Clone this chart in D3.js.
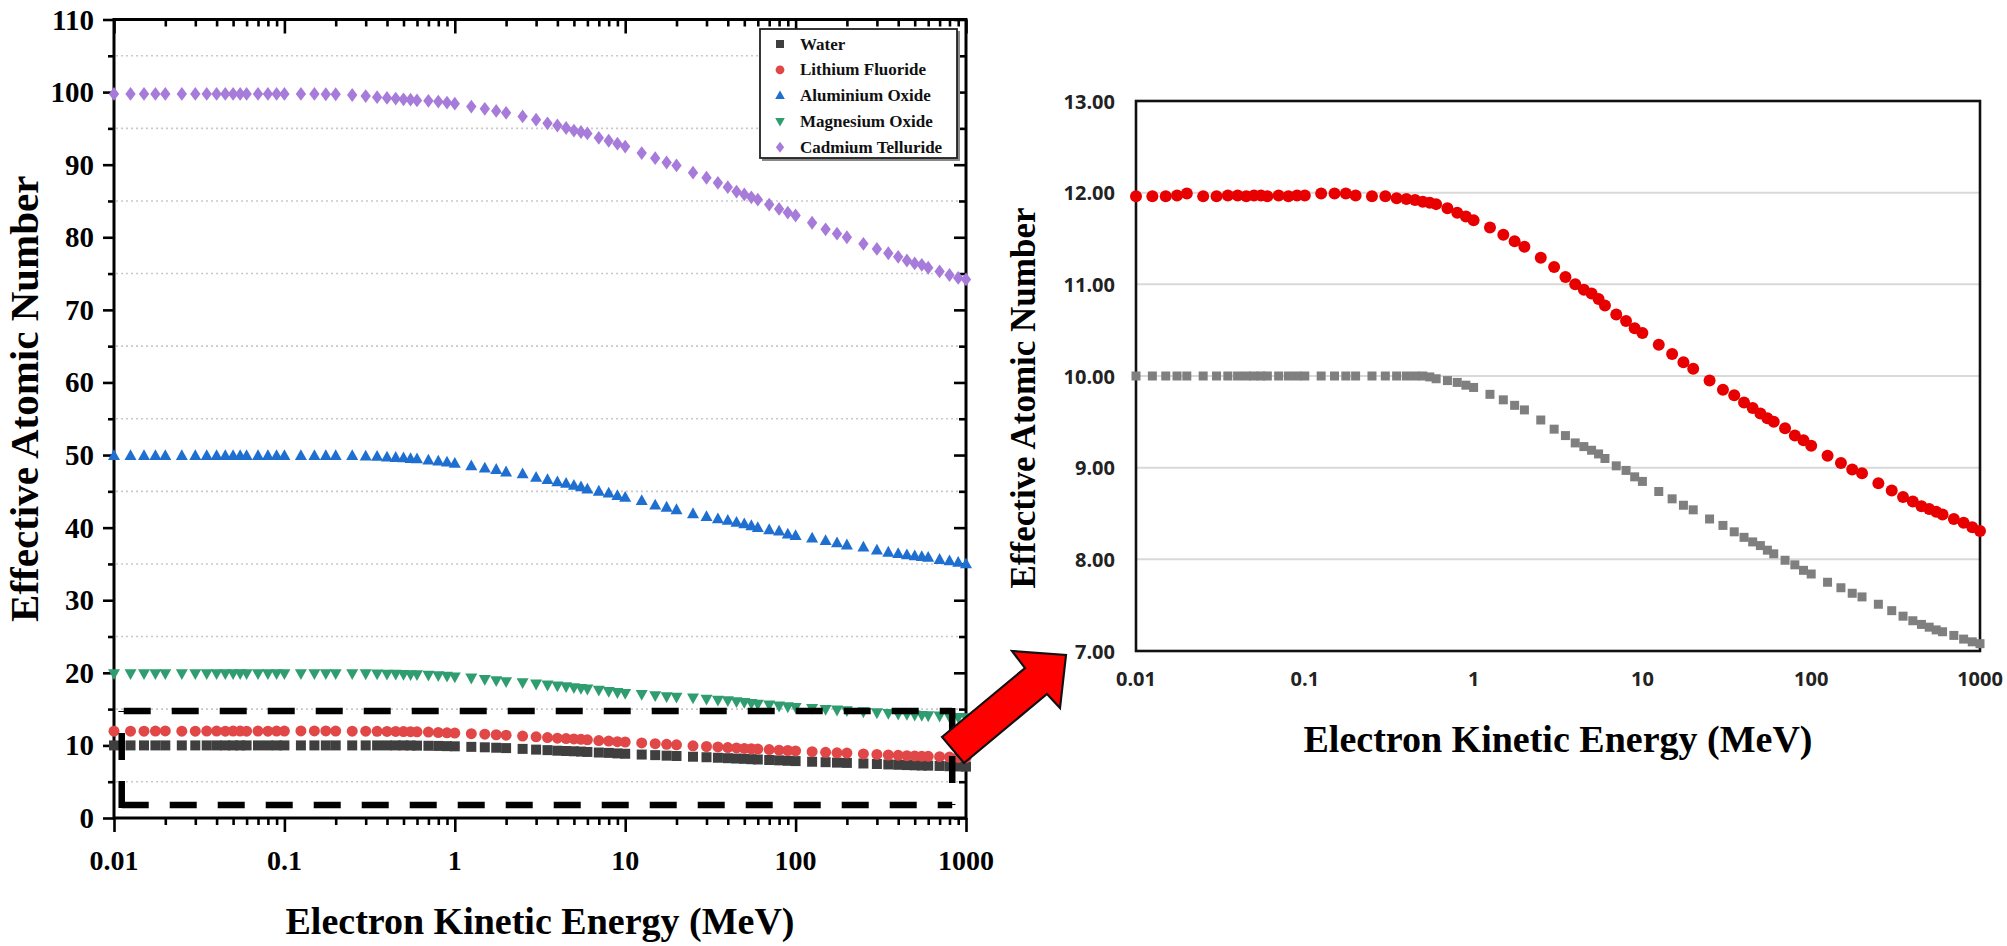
<!DOCTYPE html>
<html>
<head>
<meta charset="utf-8">
<script src="https://cdn.jsdelivr.net/npm/d3@7"></script>
<style>
html,body{margin:0;padding:0;background:#fff;}
svg{display:block;}
</style>
</head>
<body>
<svg id="chart" width="2007" height="946"></svg>
<script>
// ---------------- DATA ----------------
const energies = [0.01,0.0125,0.015,0.0175,0.02,0.025,0.03,0.035,0.04,0.045,0.05,0.055,0.06,0.07,0.08,0.09,
  0.1,0.125,0.15,0.175,0.2,0.25,0.3,0.35,0.4,0.45,0.5,0.55,0.6,0.7,0.8,0.9,
  1,1.25,1.5,1.75,2,2.5,3,3.5,4,4.5,5,5.5,6,7,8,9,
  10,12.5,15,17.5,20,25,30,35,40,45,50,55,60,70,80,90,
  100,125,150,175,200,250,300,350,400,450,500,550,600,700,800,900,1000];

const water = [10.00,10.00,10.00,10.00,10.00,10.00,10.00,10.00,10.00,10.00,10.00,10.00,10.00,10.00,10.00,10.00,
  10.00,10.00,10.00,10.00,10.00,10.00,10.00,10.00,10.00,10.00,10.00,9.99,9.97,9.95,9.93,9.90,
  9.875,9.80,9.74,9.68,9.63,9.52,9.42,9.35,9.27,9.23,9.19,9.15,9.10,9.02,8.97,8.90,
  8.85,8.74,8.66,8.59,8.54,8.44,8.37,8.30,8.24,8.19,8.15,8.10,8.06,7.99,7.94,7.88,
  7.84,7.75,7.69,7.63,7.59,7.51,7.44,7.38,7.33,7.29,7.26,7.23,7.21,7.17,7.13,7.10,7.08];

const lithiumFluoride = [11.96,11.96,11.96,11.97,11.99,11.96,11.96,11.97,11.97,11.96,11.97,11.97,11.96,11.97,11.96,11.97,
  11.97,11.99,11.99,11.99,11.97,11.96,11.96,11.94,11.93,11.92,11.90,11.89,11.875,11.83,11.78,11.74,
  11.70,11.62,11.54,11.47,11.41,11.29,11.19,11.08,11.00,10.94,10.90,10.84,10.77,10.67,10.60,10.52,
  10.47,10.34,10.24,10.15,10.08,9.95,9.85,9.79,9.71,9.65,9.59,9.54,9.50,9.43,9.35,9.30,
  9.24,9.13,9.05,8.98,8.94,8.83,8.75,8.68,8.63,8.58,8.55,8.52,8.49,8.44,8.40,8.35,8.31];

const aluminiumOxide = [49.9,49.9,49.9,49.9,49.9,49.9,49.9,49.9,49.9,49.9,49.9,49.9,49.9,49.9,49.9,49.9,
  49.9,49.9,49.9,49.9,49.9,49.9,49.85,49.8,49.7,49.65,49.6,49.5,49.45,49.3,49.15,49.0,
  48.85,48.5,48.2,48.0,47.65,47.4,46.9,46.6,46.3,46.1,45.8,45.6,45.3,45.0,44.75,44.4,
  44.15,43.7,43.1,42.8,42.45,41.9,41.5,41.2,41.0,40.7,40.5,40.25,40.0,39.7,39.5,39.1,
  38.9,38.55,38.2,37.9,37.6,37.3,36.9,36.6,36.4,36.25,36.1,36.0,35.9,35.6,35.4,35.2,35.0];

const magnesiumOxide = [19.9,19.9,19.9,19.9,19.9,19.9,19.9,19.9,19.9,19.9,19.9,19.9,19.9,19.9,19.9,19.9,
  19.9,19.9,19.9,19.9,19.9,19.9,19.88,19.86,19.84,19.82,19.8,19.77,19.75,19.7,19.62,19.55,
  19.45,19.3,19.1,18.93,18.8,18.65,18.47,18.33,18.2,18.1,17.96,17.87,17.78,17.64,17.45,17.3,
  17.19,17.05,16.86,16.74,16.66,16.55,16.4,16.26,16.17,16.03,15.94,15.8,15.7,15.58,15.44,15.34,
  15.26,15.12,14.98,14.89,14.79,14.65,14.51,14.42,14.33,14.29,14.2,14.16,14.1,14.06,13.96,13.88,13.82];

const cadmiumTelluride = [99.75,99.75,99.75,99.75,99.75,99.75,99.75,99.75,99.75,99.75,99.75,99.75,99.75,99.75,99.75,99.75,
  99.75,99.75,99.75,99.7,99.7,99.6,99.45,99.3,99.2,99.1,99.0,98.95,98.85,98.8,98.7,98.55,
  98.4,98.0,97.7,97.4,97.15,96.65,96.2,95.7,95.4,95.05,94.7,94.5,94.3,93.7,93.3,92.9,
  92.5,91.6,90.9,90.3,89.9,88.9,88.2,87.5,86.9,86.3,85.9,85.5,85.2,84.5,83.9,83.4,
  83.0,82.0,81.1,80.5,80.0,79.1,78.4,77.8,77.3,76.8,76.4,76.2,75.8,75.3,74.8,74.4,74.2];

const seriesNames = ["Water","Lithium Fluoride","Aluminium Oxide","Magnesium Oxide","Cadmium Telluride"];
const xMajorTicks = [0.01,0.1,1,10,100,1000];
const xTickLabels = ["0.01","0.1","1","10","100","1000"];
const leftYTicks = [0,10,20,30,40,50,60,70,80,90,100,110];
const leftYMinor = [5,15,25,35,45,55,65,75,85,95,105];
const rightYTicks = [7,8,9,10,11,12,13];
const rightYLabels = ["7.00","8.00","9.00","10.00","11.00","12.00","13.00"];
const axisTitleX = "Electron Kinetic Energy (MeV)";
const axisTitleY = "Effective Atomic Number";

// ---------------- SETUP ----------------
const svg = d3.select("#chart");
svg.append("rect").attr("width",2007).attr("height",946).attr("fill","#fff");
const serif = "'Liberation Serif','Times New Roman',serif";
const sans = "'Open Sans','DejaVu Sans',sans-serif";

const minorTicks = [];
xMajorTicks.slice(0,-1).forEach(d => { for (let k=2;k<=9;k++) minorTicks.push(d*k); });

// custom marker shapes (size = width in px)
const diamond = { draw(ctx, size){ const w=size*0.45, h=size*0.6; ctx.moveTo(0,-h); ctx.lineTo(w,0); ctx.lineTo(0,h); ctx.lineTo(-w,0); ctx.closePath(); } };
const triUp = { draw(ctx, s){ const h=s*0.9; ctx.moveTo(0,-h*0.6); ctx.lineTo(s/2,h*0.4); ctx.lineTo(-s/2,h*0.4); ctx.closePath(); } };
const triDown = { draw(ctx, s){ const h=s*0.9; ctx.moveTo(0,h*0.6); ctx.lineTo(s/2,-h*0.4); ctx.lineTo(-s/2,-h*0.4); ctx.closePath(); } };
const square = { draw(ctx, s){ ctx.rect(-s/2,-s/2,s,s); } };
const circle = { draw(ctx, s){ ctx.arc(0,0,s/2,0,2*Math.PI); } };

// ---------------- LEFT CHART ----------------
const xL = d3.scaleLog().domain([0.01,1000]).range([114,966]);
const yL = d3.scaleLinear().domain([0,110]).range([818,19.5]);
const L = svg.append("g");

// dotted grid at the minor y positions
L.append("g").selectAll("line").data(leftYMinor).join("line")
  .attr("x1",xL.range()[0]+2).attr("x2",xL.range()[1]-2)
  .attr("y1",d=>yL(d)).attr("y2",d=>yL(d))
  .attr("stroke","#c9c9c9").attr("stroke-width",1.6).attr("stroke-dasharray","2 3");

function styleAxis(g){ g.select(".domain").remove(); g.selectAll(".tick line").attr("stroke","#000").attr("stroke-width",2.6); g.selectAll("text").remove(); }

// bottom axis (outward)
L.append("g").attr("transform",`translate(0,${yL(0)})`).call(d3.axisBottom(xL).tickValues(xMajorTicks).tickSize(14)).call(styleAxis);
L.append("g").attr("transform",`translate(0,${yL(0)})`).call(d3.axisBottom(xL).tickValues(minorTicks).tickSize(7)).call(styleAxis);
// top axis (inward)
L.append("g").attr("transform",`translate(0,${yL(110)})`).call(d3.axisBottom(xL).tickValues(xMajorTicks).tickSize(14)).call(styleAxis);
L.append("g").attr("transform",`translate(0,${yL(110)})`).call(d3.axisBottom(xL).tickValues(minorTicks).tickSize(7)).call(styleAxis);
// left axis (outward)
L.append("g").attr("transform",`translate(${xL(0.01)},0)`).call(d3.axisLeft(yL).tickValues(leftYTicks).tickSize(11)).call(styleAxis);
L.append("g").attr("transform",`translate(${xL(0.01)},0)`).call(d3.axisLeft(yL).tickValues(leftYMinor).tickSize(6)).call(styleAxis);
// right axis (inward)
L.append("g").attr("transform",`translate(${xL(1000)},0)`).call(d3.axisLeft(yL).tickValues(leftYTicks).tickSize(12)).call(styleAxis);
L.append("g").attr("transform",`translate(${xL(1000)},0)`).call(d3.axisLeft(yL).tickValues(leftYMinor).tickSize(7)).call(styleAxis);

// frame
L.append("rect").attr("x",xL(0.01)).attr("y",yL(110)).attr("width",xL(1000)-xL(0.01)).attr("height",yL(0)-yL(110))
  .attr("fill","none").attr("stroke","#000").attr("stroke-width",3);

// tick labels
L.append("g").selectAll("text").data(leftYTicks).join("text")
  .attr("x",xL(0.01)-20).attr("y",d=>yL(d)).attr("text-anchor","end").attr("dominant-baseline","central")
  .attr("font-family",serif).attr("font-weight","bold").attr("font-size",29).text(d=>d);
L.append("g").selectAll("text").data(xMajorTicks).join("text")
  .attr("x",d=>xL(d)).attr("y",860).attr("text-anchor","middle").attr("dominant-baseline","central")
  .attr("font-family",serif).attr("font-weight","bold").attr("font-size",28).text((d,i)=>xTickLabels[i]);

// axis titles
L.append("text").attr("x",(xL(0.01)+xL(1000))/2).attr("y",921).attr("text-anchor","middle").attr("dominant-baseline","central")
  .attr("font-family",serif).attr("font-weight","bold").attr("font-size",38).text(axisTitleX);
L.append("text").attr("transform",`translate(24,${(yL(0)+yL(110))/2-20}) rotate(-90)`).attr("text-anchor","middle").attr("dominant-baseline","central")
  .attr("font-family",serif).attr("font-weight","bold").attr("font-size",41).text(axisTitleY);

// series
const leftSeries = [
  {name:seriesNames[0], values:water, color:"#3f3f3f", type:square, size:10},
  {name:seriesNames[1], values:lithiumFluoride, color:"#e24747", type:circle, size:11},
  {name:seriesNames[2], values:aluminiumOxide, color:"#1f6fd0", type:triUp, size:12},
  {name:seriesNames[3], values:magnesiumOxide, color:"#2f9d70", type:triDown, size:12},
  {name:seriesNames[4], values:cadmiumTelluride, color:"#a67bd9", type:diamond, size:11.5}
];
leftSeries.forEach(s => {
  L.append("g").selectAll("path").data(energies).join("path")
    .attr("transform",(d,i)=>`translate(${xL(d)},${yL(s.values[i])})`)
    .attr("d", d3.symbol().type(s.type).size(s.size)())
    .attr("fill",s.color);
});

// legend
const lg = L.append("g");
lg.append("rect").attr("x",762).attr("y",31).attr("width",198).attr("height",130).attr("fill","#888");
lg.append("rect").attr("x",760).attr("y",29).attr("width",197).attr("height",129).attr("fill","#fff").attr("stroke","#222").attr("stroke-width",1.8);
leftSeries.forEach((s,i) => {
  const cy = 44 + i*25.8;
  lg.append("path").attr("transform",`translate(780,${cy})`).attr("d", d3.symbol().type(s.type).size(s.size*0.8)()).attr("fill",s.color);
  lg.append("text").attr("x",800).attr("y",cy).attr("dominant-baseline","central")
    .attr("font-family",serif).attr("font-weight","bold").attr("font-size",17).attr("fill","#111").text(s.name);
});

// dashed zoom box (annotation)
const boxG = L.append("g").attr("stroke","#000").attr("stroke-width",6.5).attr("stroke-dasharray","27 21").attr("fill","none");
const bx0 = xL(0.0111), bx1 = xL(830), by0 = yL(14.75), by1 = yL(1.8);
boxG.append("line").attr("x1",bx0+2).attr("x2",bx1).attr("y1",by0).attr("y2",by0);
boxG.append("line").attr("x1",bx0).attr("x2",bx1).attr("y1",by1).attr("y2",by1);
boxG.append("line").attr("x1",bx0).attr("x2",bx0).attr("y1",by1+3).attr("y2",by0);
boxG.append("line").attr("x1",bx1).attr("x2",bx1).attr("y1",by0-3).attr("y2",by1);

// red arrow (annotation)
const arrowPts = [[942,737],[1025,668],[1012,651],[1066,655],[1060,708],[1047,694],[964,763]];
L.append("path").attr("d", d3.line()(arrowPts)+"Z").attr("fill","#ff0000").attr("stroke","#111").attr("stroke-width",2.2).attr("stroke-linejoin","miter");

// ---------------- RIGHT CHART ----------------
const xR = d3.scaleLog().domain([0.01,1000]).range([1136,1980]);
const yR = d3.scaleLinear().domain([7,13]).range([651,101]);
const R = svg.append("g");

R.append("g").selectAll("line").data(rightYTicks.slice(1,-1)).join("line")
  .attr("x1",xR(0.01)).attr("x2",xR(1000)).attr("y1",d=>yR(d)).attr("y2",d=>yR(d))
  .attr("stroke","#d9d9d9").attr("stroke-width",2);

R.append("rect").attr("x",xR(0.01)).attr("y",yR(13)).attr("width",xR(1000)-xR(0.01)).attr("height",yR(7)-yR(13))
  .attr("fill","none").attr("stroke","#111").attr("stroke-width",2.6);

R.append("g").selectAll("text").data(rightYTicks).join("text")
  .attr("x",xR(0.01)-21).attr("y",d=>yR(d)).attr("text-anchor","end").attr("dominant-baseline","central")
  .attr("font-family",sans).attr("font-weight",700).attr("font-size",20).attr("fill","#222").text((d,i)=>rightYLabels[i]);
R.append("g").selectAll("text").data(xMajorTicks).join("text")
  .attr("x",d=>xR(d)).attr("y",678).attr("text-anchor","middle").attr("dominant-baseline","central")
  .attr("font-family",sans).attr("font-weight",700).attr("font-size",20).attr("fill","#222").text((d,i)=>xTickLabels[i]);

R.append("text").attr("x",(xR(0.01)+xR(1000))/2).attr("y",739).attr("text-anchor","middle").attr("dominant-baseline","central")
  .attr("font-family",serif).attr("font-weight","bold").attr("font-size",38).text(axisTitleX);
R.append("text").attr("transform",`translate(1023,398) rotate(-90)`).attr("text-anchor","middle").attr("dominant-baseline","central")
  .attr("font-family",serif).attr("font-weight","bold").attr("font-size",35).text(axisTitleY);

const rightSeries = [
  {values:water, color:"#7f7f7f", type:square, size:9},
  {values:lithiumFluoride, color:"#e80000", type:circle, size:12}
];
rightSeries.forEach(s => {
  R.append("g").selectAll("path").data(energies).join("path")
    .attr("transform",(d,i)=>`translate(${xR(d)},${yR(s.values[i])})`)
    .attr("d", d3.symbol().type(s.type).size(s.size)())
    .attr("fill",s.color);
});
</script>
</body>
</html>
